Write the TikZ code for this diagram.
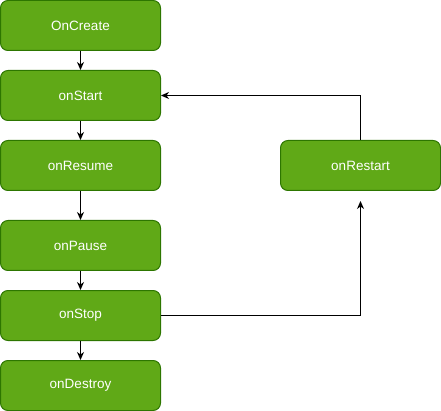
\documentclass[tikz,border=0pt]{standalone}
\usepackage{fontspec}
\setmainfont{Liberation Sans}
\usetikzlibrary{arrows.meta}
\definecolor{stagefill}{HTML}{60A917}
\definecolor{stageline}{HTML}{2D7600}

\begin{document}
\begin{tikzpicture}[x=1pt,y=-1pt,
    stage/.style={draw=stageline,fill=stagefill,line width=1pt,rounded corners=7.5pt,
      minimum width=160pt,minimum height=50pt,text=white,font=\fontsize{13.5}{16}\selectfont},
    flow/.style={-{Stealth[length=8pt,width=7pt,inset=2.5pt]},line width=1pt}]

      \useasboundingbox (0,0) rectangle (441,411);

      % The main column of lifecycle calls
      \node[stage] (oncreate) at (80.5,25.5) {OnCreate};
      \node[stage] (onstart) at (80.5,95.5) {onStart};
      \node[stage] (onresume) at (80.5,165.5) {onResume};
      \node[stage] (onpause) at (80.5,245.5) {onPause};
      \node[stage] (onstop) at (80.5,315.5) {onStop};
      \node[stage] (ondestroy) at (80.5,385.5) {onDestroy};

      % the restart branch on the right
      \node[stage] (onrestart) at (360.5,165.5) {onRestart};

      %Now the arrows down the column
      \draw[flow] (oncreate) -- (onstart);
      \draw[flow] (onstart) -- (onresume);
      \draw[flow] (onresume) -- (onpause);
      \draw[flow] (onpause) -- (onstop);
      \draw[flow] (onstop) -- (ondestroy);

      %% stop goes round to restart, restart back to start
      \draw[flow,shorten >=10pt] (onstop.east) -| (onrestart.south);
      \draw[flow] (onrestart.north) |- (onstart.east);

    \end{tikzpicture}
\end{document}
